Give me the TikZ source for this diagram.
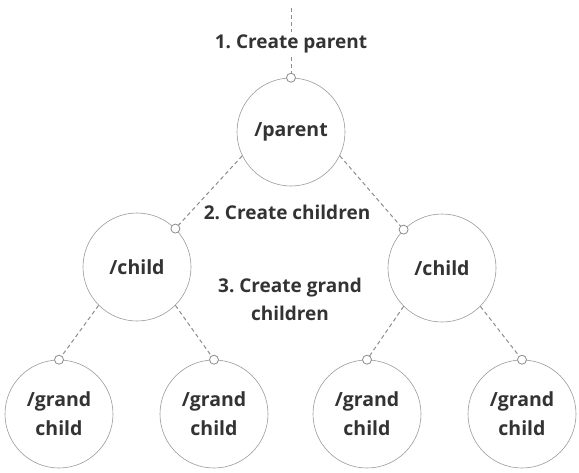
\documentclass[tikz,border=0pt]{standalone}
\usepackage{fontspec}
\setmainfont{Open Sans}
\frenchspacing
\definecolor{txtgray}{HTML}{333333}
\definecolor{linegray}{HTML}{8C8C8C}
\definecolor{ringgray}{HTML}{9A9A9A}
\begin{document}
\begin{tikzpicture}[x=1pt, y=-1pt,
	dirnode/.style={circle, draw=ringgray, line width=0.6pt, minimum size=108pt, inner sep=0pt,
		align=center, font=\fontsize{19.5}{29}\selectfont\bfseries, text=txtgray},
	steplabel/.style={align=center, fill=white, font=\fontsize{19}{28}\selectfont\bfseries, text=txtgray},
	link/.style={draw=linegray, line width=1pt, dash pattern=on 4pt off 3pt},
	knob/.style={draw=linegray, fill=white, line width=0.8pt}]
	\useasboundingbox (0,0) rectangle (579,472);
	% nodes
	\node[dirnode] (parent) at (291,132) {/parent};
	\node[dirnode] (lchild) at (137,267) {/child};
	\node[dirnode] (rchild) at (442,268) {/child};
	\node[dirnode] (gc1) at (59,414) {/grand\\child};
	\node[dirnode] (gc2) at (214,414) {/grand\\child};
	\node[dirnode] (gc3) at (367,414) {/grand\\child};
	\node[dirnode] (gc4) at (522,414) {/grand\\child};
	\coordinate (top) at (291,8);
	
	% links
	\draw[link] (top) -- (parent.90);
	\draw[link] (parent.206) -- (lchild.45);
	\draw[link] (parent.334) -- (rchild.135);
	\draw[link] (lchild.225) -- (gc1.90);
	\draw[link] (lchild.315) -- (gc2.90);
	\draw[link] (rchild.225) -- (gc3.90);
	\draw[link] (rchild.315) -- (gc4.90);
	\foreach \n in {parent.90, lchild.45, rchild.135, gc1.90, gc2.90, gc3.90, gc4.90}
		\draw[knob] (\n) circle (4.5pt);
	
	% step labels
	\node[steplabel] (step1) at (291,44) {1. Create parent};
	\node[steplabel, fill=none] (step2) at (287,212) {2. Create children};
	\node[steplabel, fill=none] (step3) at (290,299) {3. Create grand\\children};
\end{tikzpicture}
\end{document}
